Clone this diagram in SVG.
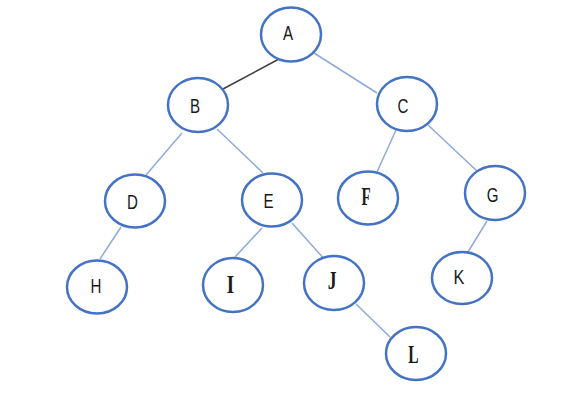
<svg xmlns="http://www.w3.org/2000/svg" width="577" height="413" viewBox="0 0 577 413">
<style>
.n ellipse{fill:#fff;stroke:#4472C4;stroke-width:2.5}
.n text{fill:#1a1a1a;text-anchor:middle}
.s{font-family:"Liberation Sans",Arial,sans-serif;font-size:21px;fill:#333}
.r{font-family:"Liberation Serif","Times New Roman",serif;font-size:25px;font-weight:bold}
#edges line{stroke:#8EA9DB;stroke-width:1.5}
</style>
<rect width="577" height="413" fill="#fff"/>
<g id="edges">
<line x1="279" y1="59" x2="223" y2="89" style="stroke:#404040"/>
<line x1="314" y1="53" x2="377" y2="93"/>
<line x1="182" y1="133" x2="146" y2="175"/>
<line x1="217" y1="129" x2="263" y2="173"/>
<line x1="396" y1="130" x2="377" y2="172"/>
<line x1="428" y1="125" x2="477" y2="171"/>
<line x1="121" y1="227" x2="100" y2="259"/>
<line x1="262" y1="228" x2="235" y2="257"/>
<line x1="292" y1="223" x2="325" y2="260"/>
<line x1="356" y1="304" x2="390" y2="337"/>
<line x1="487" y1="221" x2="468" y2="252"/>
</g>
<g id="A" class="n"><ellipse cx="291" cy="34.5" rx="30" ry="27"/><text transform="translate(288,40) scale(0.72,1)" class="s">A</text></g>
<g id="B" class="n"><ellipse cx="198" cy="105" rx="30" ry="27"/><text transform="translate(195,112.5) scale(0.72,1)" class="s">B</text></g>
<g id="C" class="n"><ellipse cx="407" cy="104" rx="30" ry="27"/><text transform="translate(403,112.5) scale(0.72,1)" class="s">C</text></g>
<g id="D" class="n"><ellipse cx="135" cy="201" rx="30" ry="26.5"/><text transform="translate(132.5,208.5) scale(0.72,1)" class="s">D</text></g>
<g id="E" class="n"><ellipse cx="272" cy="200" rx="30" ry="26.5"/><text transform="translate(268.5,208) scale(0.72,1)" class="s">E</text></g>
<g id="F" class="n"><ellipse cx="368" cy="198" rx="30" ry="26.5"/><text transform="translate(366,205) scale(0.6,1)" class="r">F</text></g>
<g id="G" class="n"><ellipse cx="495" cy="193" rx="30" ry="27"/><text transform="translate(492.5,202) scale(0.72,1)" class="s">G</text></g>
<g id="H" class="n"><ellipse cx="97" cy="287" rx="30" ry="26.5"/><text transform="translate(96,293) scale(0.72,1)" class="s">H</text></g>
<g id="I" class="n"><ellipse cx="233" cy="285" rx="30" ry="27"/><text transform="translate(230.5,292.5) scale(0.75,1)" class="r">I</text></g>
<g id="J" class="n"><ellipse cx="334" cy="283" rx="30" ry="27"/><text transform="translate(332,289) scale(0.7,1)" class="r">J</text></g>
<g id="K" class="n"><ellipse cx="462" cy="278" rx="30" ry="26"/><text transform="translate(459,284) scale(0.78,1)" class="s">K</text></g>
<g id="L" class="n"><ellipse cx="416" cy="353.5" rx="30" ry="26.5"/><text transform="translate(413.5,363) scale(0.62,1)" class="r">L</text></g>
</svg>
